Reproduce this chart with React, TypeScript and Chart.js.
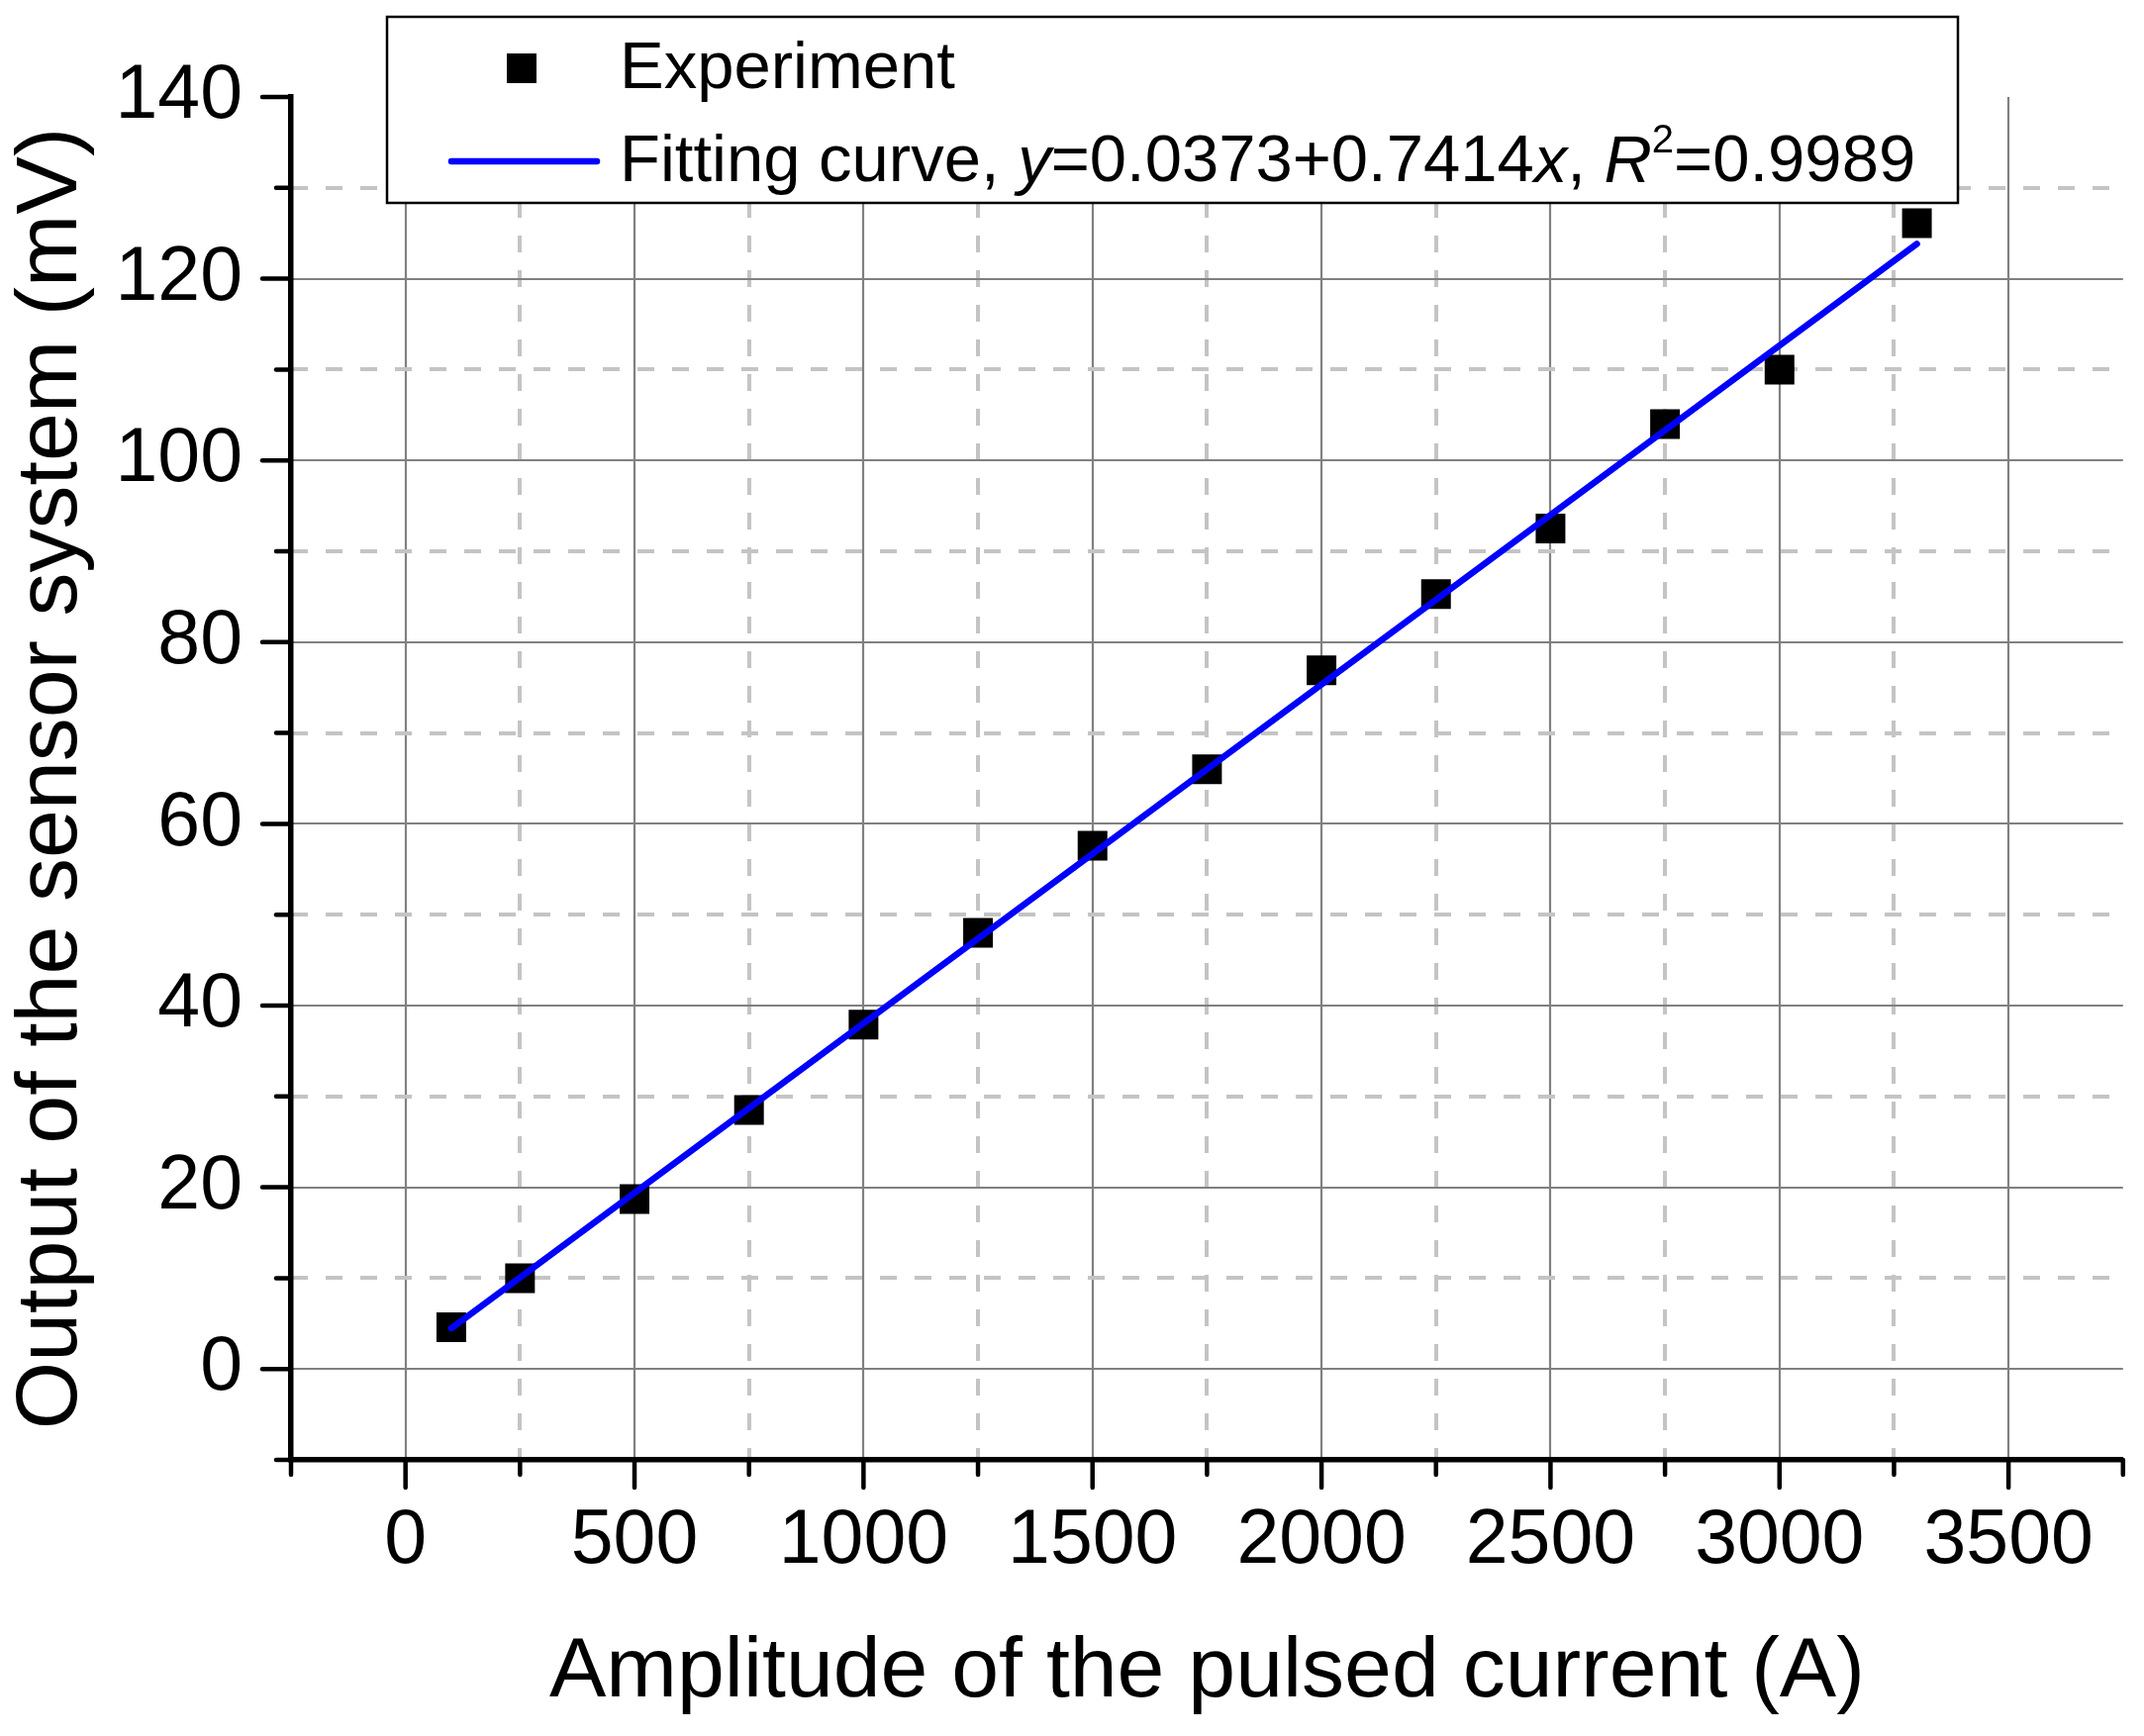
import React, { useEffect, useRef } from "react";
import { Chart, registerables } from "chart.js";

Chart.register(...registerables);

// ---- data ----
const currentA: number[] = [100, 250, 500, 750, 1000, 1250, 1500, 1750, 2000, 2250, 2500, 2750, 3000, 3300];
const outputMV: number[] = [4.6, 10.0, 18.7, 28.5, 37.9, 48.0, 57.6, 66.0, 76.9, 85.3, 92.5, 104.0, 110.0, 126.1];
const fitX: number[] = [100, 3300];
const fitY: number[] = [4.47, 123.83];

const xMin = -250, xMax = 3750, xStep = 250, xLabelStep = 500;
const yMin = -10, yMax = 140, yStep = 10, yLabelStep = 20;

const xTitle = "Amplitude of the pulsed current (A)";
const yTitle = "Output of the sensor system (mV)";
const legendExperiment = "Experiment";

const FONT = '"Liberation Sans", Arial, sans-serif';

const W = 2166, H = 1754;

const gridPlugin = {
  id: "originGrid",
  beforeDraw(chart: any) {
    const { ctx, chartArea } = chart;
    const xs = chart.scales.x, ys = chart.scales.y;
    ctx.save();
    const styleLine = (major: boolean) => {
      if (major) {
        ctx.setLineDash([]);
        ctx.strokeStyle = "#808080";
        ctx.lineWidth = 2.2;
      } else {
        ctx.setLineDash([17, 18]);
        ctx.strokeStyle = "#c4c4c4";
        ctx.lineWidth = 4;
      }
    };
    xs.ticks.forEach((t: any) => {
      const v = t.value;
      if (v <= xMin || v >= xMax) return;
      const px = Math.round(xs.getPixelForValue(v));
      ctx.beginPath();
      styleLine(v % xLabelStep === 0);
      ctx.moveTo(px, chartArea.top);
      ctx.lineTo(px, chartArea.bottom);
      ctx.stroke();
    });
    ys.ticks.forEach((t: any) => {
      const v = t.value;
      if (v <= yMin || v >= yMax) return;
      const py = Math.round(ys.getPixelForValue(v));
      ctx.beginPath();
      styleLine(v % yLabelStep === 0);
      ctx.moveTo(chartArea.left, py);
      ctx.lineTo(chartArea.right, py);
      ctx.stroke();
    });
    ctx.restore();
  },
  afterDraw(chart: any) {
    const { ctx, chartArea } = chart;
    const xs = chart.scales.x, ys = chart.scales.y;
    ctx.save();
    ctx.setLineDash([]);
    ctx.strokeStyle = "#000";
    ctx.lineWidth = 4.5;
    ctx.lineCap = "round";
    xs.ticks.forEach((t: any) => {
      const v = t.value;
      const px = xs.getPixelForValue(v);
      const major = v % xLabelStep === 0 && v > xMin && v < xMax;
      ctx.beginPath();
      ctx.moveTo(px, chartArea.bottom);
      ctx.lineTo(px, chartArea.bottom + (major ? 28 : 15));
      ctx.stroke();
    });
    ys.ticks.forEach((t: any) => {
      const v = t.value;
      const py = ys.getPixelForValue(v);
      const major = v % yLabelStep === 0 && v > yMin;
      ctx.beginPath();
      ctx.moveTo(chartArea.left, py);
      ctx.lineTo(chartArea.left - (major ? 29 : 15), py);
      ctx.stroke();
    });
    ctx.restore();

    // legend
    ctx.save();
    const bx = 391, by = 17, bw = 1587, bh = 188;
    ctx.fillStyle = "#fff";
    ctx.fillRect(bx, by, bw, bh);
    ctx.strokeStyle = "#000";
    ctx.lineWidth = 2.5;
    ctx.strokeRect(bx, by, bw, bh);
    // marker
    ctx.fillStyle = "#000";
    ctx.fillRect(527 - 15, 69 - 15, 30, 30);
    // line sample
    ctx.strokeStyle = "#0000ff";
    ctx.lineWidth = 6.5;
    ctx.lineCap = "round";
    ctx.beginPath();
    ctx.moveTo(456, 163);
    ctx.lineTo(603, 163);
    ctx.stroke();
    // texts
    ctx.fillStyle = "#000";
    ctx.textBaseline = "middle";
    ctx.textAlign = "left";
    const size = 67;
    ctx.font = `${size}px ${FONT}`;
    ctx.fillText(legendExperiment, 626, 71);
    const parts: { t: string; it?: boolean; sup?: boolean }[] = [
      { t: "Fitting curve, " },
      { t: "y", it: true },
      { t: "=0.0373+0.7414" },
      { t: "x", it: true },
      { t: ", " },
      { t: "R", it: true },
      { t: "2", sup: true },
      { t: "=0.9989" },
    ];
    let x = 626;
    const y = 165;
    parts.forEach((p) => {
      const s = p.sup ? 40 : size;
      ctx.font = `${p.it ? "italic " : ""}${s}px ${FONT}`;
      ctx.fillText(p.t, x, p.sup ? y - 22 : y);
      x += ctx.measureText(p.t).width;
    });
    ctx.restore();
  },
};

export default function App() {
  const ref = useRef<HTMLCanvasElement | null>(null);
  useEffect(() => {
    if (!ref.current) return;
    const chart = new Chart(ref.current, {
      type: "scatter",
      data: {
        datasets: [
          {
            type: "line",
            label: "Fitting curve",
            data: fitX.map((v, i) => ({ x: v, y: fitY[i] })),
            borderColor: "#0000ff",
            borderWidth: 6.5,
            borderCapStyle: "round",
            pointRadius: 0,
            fill: false,
            order: 0,
          } as any,
          {
            type: "scatter",
            label: legendExperiment,
            data: currentA.map((v, i) => ({ x: v, y: outputMV[i] })),
            pointStyle: "rect",
            pointRadius: 21.2,
            backgroundColor: "#000",
            borderWidth: 0,
            order: 1,
          } as any,
        ],
      },
      options: {
        responsive: false,
        animation: false,
        devicePixelRatio: 1,
        events: [],
        layout: { padding: { top: 98, right: 16, left: 0, bottom: 0 } },
        plugins: { legend: { display: false }, tooltip: { enabled: false } },
        scales: {
          x: {
            type: "linear",
            min: xMin,
            max: xMax,
            afterFit: (s: any) => {
              s.height = H - 1475;
            },
            ticks: {
              stepSize: xStep,
              autoSkip: false,
              maxRotation: 0,
              padding: 9,
              color: "#000",
              font: { family: FONT, size: 77 },
              callback: (v: any) => (v % xLabelStep === 0 && v >= 0 && v <= 3500 ? String(v) : ""),
            },
            grid: { display: true, drawOnChartArea: false, drawTicks: true, tickLength: 28, tickColor: "rgba(0,0,0,0)", color: "rgba(0,0,0,0)" },
            border: { display: true, color: "#000", width: 5.5 },
            title: { display: true, text: xTitle, color: "#000", font: { family: FONT, size: 86 }, padding: { top: 0, bottom: 12 } },
          },
          y: {
            type: "linear",
            min: yMin,
            max: yMax,
            afterFit: (s: any) => {
              s.width = 294;
            },
            ticks: {
              stepSize: yStep,
              autoSkip: false,
              padding: 20,
              color: "#000",
              font: { family: FONT, size: 77 },
              callback: (v: any) => (v % yLabelStep === 0 && v >= 0 ? String(v) : ""),
            },
            grid: { display: true, drawOnChartArea: false, drawTicks: true, tickLength: 29, tickColor: "rgba(0,0,0,0)", color: "rgba(0,0,0,0)" },
            border: { display: true, color: "#000", width: 5.5 },
            title: { display: true, text: yTitle, color: "#000", font: { family: FONT, size: 88 }, padding: { top: 0, bottom: 0 } },
          },
        },
      } as any,
      plugins: [gridPlugin],
    });
    return () => chart.destroy();
  }, []);
  return (
    <div style={{ position: "absolute", left: 0, top: 0, width: W, height: H, background: "#fff" }}>
      <canvas ref={ref} width={W} height={H} style={{ display: "block", width: W, height: H }} />
    </div>
  );
}
